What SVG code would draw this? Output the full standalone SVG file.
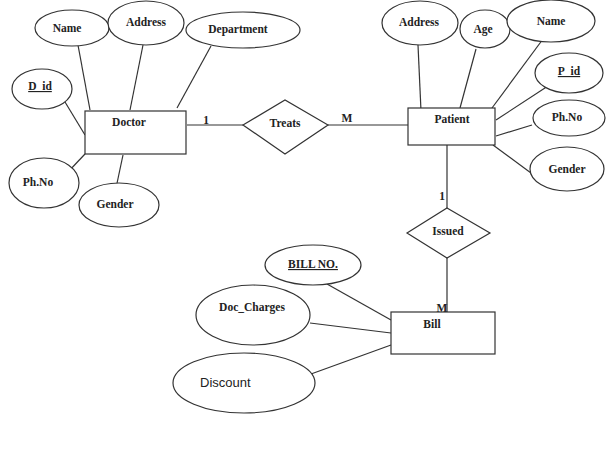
<svg xmlns="http://www.w3.org/2000/svg" width="609" height="465" viewBox="0 0 609 465">
<style>
ellipse,rect.n,polygon{fill:#fff;stroke:#333;stroke-width:1.2}
line{stroke:#333;stroke-width:1.2}
text{font-family:"Liberation Serif",serif;font-weight:bold;font-size:11.5px;text-anchor:middle;fill:#222}
.u{text-decoration:underline}
.s{font-family:"Liberation Sans",sans-serif;font-weight:normal;font-size:13px;text-anchor:start}
</style>
<rect width="609" height="465" fill="#fff"/>
<g id="connectors">
<line x1="78" y1="45" x2="90" y2="110"/><line x1="143" y1="45" x2="130" y2="110"/>
<line x1="211" y1="46" x2="177" y2="108"/><line x1="65" y1="102" x2="85" y2="135"/>
<line x1="67" y1="173" x2="85" y2="154"/><line x1="123" y1="155" x2="116" y2="188"/>
<line x1="187" y1="125" x2="243" y2="125"/><line x1="328" y1="125" x2="408" y2="125"/>
<line x1="418" y1="45" x2="421" y2="111"/><line x1="476" y1="49" x2="460" y2="108"/>
<line x1="543" y1="39" x2="492" y2="108"/><line x1="548" y1="86" x2="496" y2="120"/>
<line x1="532" y1="125" x2="496" y2="136"/><line x1="531" y1="173" x2="493" y2="145"/>
<line x1="447" y1="145" x2="447" y2="209"/><line x1="447" y1="258" x2="447" y2="312"/>
<line x1="327" y1="284" x2="391" y2="320"/><line x1="310" y1="323" x2="391" y2="333"/>
<line x1="311" y1="374" x2="391" y2="345"/>
<text x="206" y="124">1</text><text x="347" y="122">M</text>
<text x="442" y="200">1</text><text x="442" y="312">M</text>
</g>
<g id="doctor"><rect class="n" x="85" y="111" width="101" height="43"/><text x="129" y="126">Doctor</text></g>
<g id="d_name"><ellipse cx="72" cy="28" rx="37" ry="18"/><text x="67" y="32">Name</text></g>
<g id="d_address"><ellipse cx="146" cy="23" rx="38" ry="22"/><text x="146" y="26">Address</text></g>
<g id="d_department"><ellipse cx="243" cy="30" rx="57" ry="18"/><text x="238" y="33">Department</text></g>
<g id="d_id"><ellipse cx="42" cy="89" rx="30" ry="20"/><text x="40" y="90" class="u">D_id</text></g>
<g id="d_phno"><ellipse cx="44" cy="183" rx="35" ry="25"/><text x="38" y="186">Ph.No</text></g>
<g id="d_gender"><ellipse cx="119" cy="205" rx="40" ry="22"/><text x="115" y="208">Gender</text></g>
<g id="treats"><polygon points="243,125 285,100 328,125 285,154"/><text x="285" y="127">Treats</text></g>
<g id="patient"><rect class="n" x="408" y="108" width="87" height="37"/><text x="452" y="123">Patient</text></g>
<g id="p_address"><ellipse cx="420" cy="23" rx="38" ry="22"/><text x="419" y="26">Address</text></g>
<g id="p_age"><ellipse cx="485" cy="29" rx="25" ry="19"/><text x="483" y="33">Age</text></g>
<g id="p_name"><ellipse cx="551" cy="21" rx="44" ry="21"/><text x="551" y="25">Name</text></g>
<g id="p_id"><ellipse cx="569" cy="73" rx="34" ry="20"/><text x="569" y="75" class="u">P_id</text></g>
<g id="p_phno"><ellipse cx="569" cy="118" rx="36" ry="18"/><text x="567" y="121">Ph.No</text></g>
<g id="p_gender"><ellipse cx="567" cy="169" rx="37" ry="22"/><text x="567" y="173">Gender</text></g>
<g id="issued"><polygon points="447,208 490,233 447,258 407,233"/><text x="448" y="235">Issued</text></g>
<g id="bill"><rect class="n" x="391" y="312" width="104" height="42"/><text x="432" y="328">Bill</text></g>
<g id="bill_no"><ellipse cx="313" cy="265" rx="48" ry="20"/><text x="313" y="268" class="u">BILL NO.</text></g>
<g id="doc_charges"><ellipse cx="253" cy="315" rx="57" ry="30"/><text x="252" y="311">Doc_Charges</text></g>
<g id="discount"><ellipse cx="244" cy="383" rx="71" ry="30"/><text x="200" y="387" class="s">Discount</text></g>
</svg>
